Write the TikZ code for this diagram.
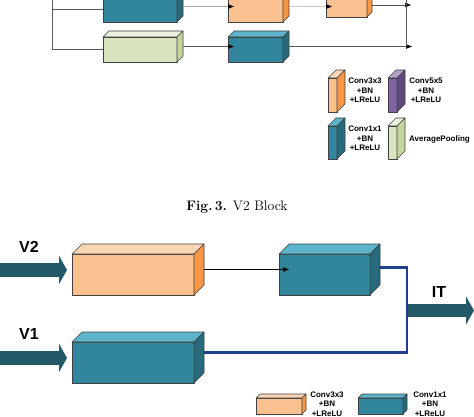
\documentclass[tikz,border=0pt]{standalone}
\usepackage{fontspec}
\newfontfamily\arialf{Liberation Sans}
\usetikzlibrary{arrows.meta}
\definecolor{tealF}{HTML}{31859C}
\definecolor{tealT}{HTML}{5BB4CB}
\definecolor{tealS}{HTML}{266A7B}
\definecolor{orF}{HTML}{FAC090}
\definecolor{orT}{HTML}{FCD5B5}
\definecolor{orS}{HTML}{F79646}
\definecolor{grF}{HTML}{D7E4BD}
\definecolor{grT}{HTML}{EBF1DE}
\definecolor{grS}{HTML}{C3D69B}
\definecolor{puF}{HTML}{8064A2}
\definecolor{puT}{HTML}{B3A2C7}
\definecolor{puS}{HTML}{604A7B}
\definecolor{arrowteal}{HTML}{215968}
\definecolor{navyline}{HTML}{1F3F8F}
\tikzset{
  cubeline/.style={draw=black!75, line width=0.6pt, line join=round},
  cubefront/.style={cubeline, rectangle, inner sep=0pt, outer sep=0pt},
  thinline/.style={draw=black!65, line width=0.6pt},
  conn/.style={thinline, -{Triangle[length=6pt,width=4.5pt,color=black]}},
  bigarrow/.style={draw=arrowteal, line width=14pt, -{Triangle[length=8pt,width=28pt]}},
  blueline/.style={draw=navyline, line width=2.2pt},
  lbl/.style={font=\arialf\bfseries\fontsize{16}{18}\selectfont, inner sep=0pt},
  leg/.style={font=\arialf\bfseries\fontsize{8}{9.5}\selectfont, align=center, inner sep=0pt},
}
\newcommand{\mycube}[9]{%
  \node[cubefront, fill=#7, minimum width=#4pt, minimum height=#5pt] (#1) at (#2,#3) {};
  \filldraw[cubeline, fill=#8] (#1.north west) -- ++(#6,-#6) -- ++(#4,0) -- (#1.north east) -- cycle;
  \filldraw[cubeline, fill=#9] (#1.north east) -- ++(#6,-#6) -- ++(0,#5) -- (#1.south east) -- cycle;
}
\begin{document}
\begin{tikzpicture}[x=1pt,y=-1pt]
\useasboundingbox (0,0) rectangle (474,417);
\clip (0,0) rectangle (474,417);
\fill[white] (0,0) rectangle (474,417);
% ---------- top block ----------
\mycube{tA}{140}{9.5}{74}{25}{6}{tealF}{tealT}{tealS}
\mycube{oA}{255.5}{9.5}{55}{25}{6}{orF}{orT}{orS}
\mycube{oB}{346.5}{5}{41}{24}{5}{orF}{orT}{orS}
\mycube{gA}{140}{49.5}{74}{25}{6}{grF}{grT}{grS}
\mycube{tB}{255.5}{49.5}{55}{25}{6}{tealF}{tealT}{tealS}
\coordinate (lt) at (52,-6);
\coordinate (rt) at (406,-6);
\coordinate (rb) at (406,47);
\draw[thinline] (lt) |- (gA.west);
\draw[thinline] (tA.west) -- (tA.west -| lt);
\draw[conn, draw=black!35] ([xshift=6pt,yshift=3pt]tA.east) -- ([xshift=6pt,yshift=3pt]tA.east -| oA.west);
\draw[conn, draw=black!20] ([xshift=6pt,yshift=3pt]oA.east) -- ([xshift=6pt,yshift=3pt]oA.east -| oB.west);
\draw[conn] ([xshift=5pt]oB.east) -- ([xshift=5pt]oB.east -| rt);
\draw[conn] ([xshift=6pt,yshift=3pt]gA.east) -- ([xshift=6pt,yshift=3pt]gA.east -| tB.west);
\draw[conn] ([xshift=6pt,yshift=3pt]tB.east) -- ([xshift=6pt,yshift=3pt]tB.east -| rt);
\draw[thinline] (rt) -- (rb);
% legend top
\mycube{lo}{332.5}{95}{9}{34}{8}{orF}{orT}{orS}
\mycube{lp}{392.5}{95}{9}{34}{8}{puF}{puT}{puS}
\mycube{lq}{332.5}{142.5}{9}{33}{8}{tealF}{tealT}{tealS}
\mycube{lg}{392.5}{142.5}{9}{33}{8}{grF}{grT}{grS}
\node[leg] (t1) at (365,90.5) {Conv3x3\\+BN\\+LReLU};
\node[leg] (t2) at (426,90.5) {Conv5x5\\+BN\\+LReLU};
\node[leg] (t3) at (365,138.5) {Conv1x1\\+BN\\+LReLU};
\node[leg, anchor=west] (t4) at (409,139) {AveragePooling};
% caption
\node[font=\fontsize{13.8}{16}\selectfont, inner sep=0pt] (cap) at (237,207) {\textbf{Fig.\,3.} V2 Block};
% ---------- bottom block ----------
\mycube{ob}{133}{274.5}{122}{41}{10}{orF}{orT}{orS}
\mycube{tr}{324.5}{274.5}{91}{41}{10}{tealF}{tealT}{tealS}
\mycube{tv}{133}{362.5}{122}{41}{10}{tealF}{tealT}{tealS}
\coordinate (v2s) at (-5,270);
\coordinate (v1s) at (-5,358);
\draw[bigarrow, shorten >=5pt] (v2s) -- (v2s -| ob.west);
\draw[bigarrow, shorten >=5pt] (v1s) -- (v1s -| tv.west);
\draw[conn, draw=black] ([xshift=10pt,yshift=5pt]ob.east) -- ([xshift=10pt,yshift=5pt]ob.east -| tr.west);
\coordinate (j) at (407,310.5);
\coordinate (itend) at (474,310.5);
\draw[blueline] ([xshift=10pt,yshift=7pt]tr.east) -| (j) |- ([xshift=10pt,yshift=10pt]tv.east);
\draw[bigarrow, line width=13pt] ([xshift=1pt]j) -- (itend);
\node[lbl] (v2l) at (29,247) {V2};
\node[lbl] (v1l) at (29,334) {V1};
\node[lbl] (itl) at (439,292) {IT};
% legend bottom
\mycube{lbo}{279}{406}{46}{16}{4}{orF}{orT}{orS}
\mycube{lbt}{380.5}{406}{45}{16}{4}{tealF}{tealT}{tealS}
\node[leg] (t5) at (327,404) {Conv3x3\\+BN\\+LReLU};
\node[leg] (t6) at (430,404) {Conv1x1\\+BN\\+LReLU};
\end{tikzpicture}
\end{document}
